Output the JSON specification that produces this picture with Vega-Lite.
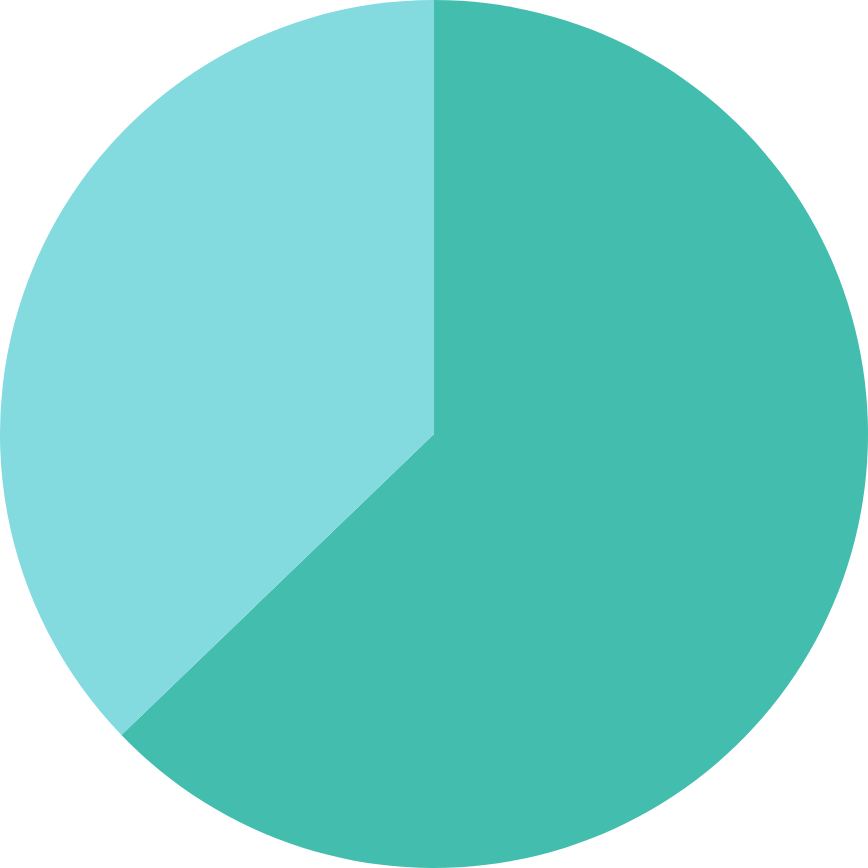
{
  "$schema": "https://vega.github.io/schema/vega-lite/v6.json",
  "autosize": {"type": "fit", "contains": "padding"},
  "width": 868,
  "height": 868,
  "padding": 0,
  "background": "#ffffff",
  "config": {"view": {"stroke": null}},
  "data": {
    "values": [
      {"category": "A", "value": 62.8, "idx": 1},
      {"category": "B", "value": 37.2, "idx": 2}
    ]
  },
  "mark": {"type": "arc", "outerRadius": 434, "opacity": 1},
  "encoding": {
    "theta": {"field": "value", "type": "quantitative", "stack": true},
    "order": {"field": "idx", "type": "quantitative"},
    "color": {
      "field": "category",
      "type": "nominal",
      "scale": {"domain": ["A", "B"], "range": ["#43bdad", "#83dadf"]},
      "legend": null
    }
  }
}
